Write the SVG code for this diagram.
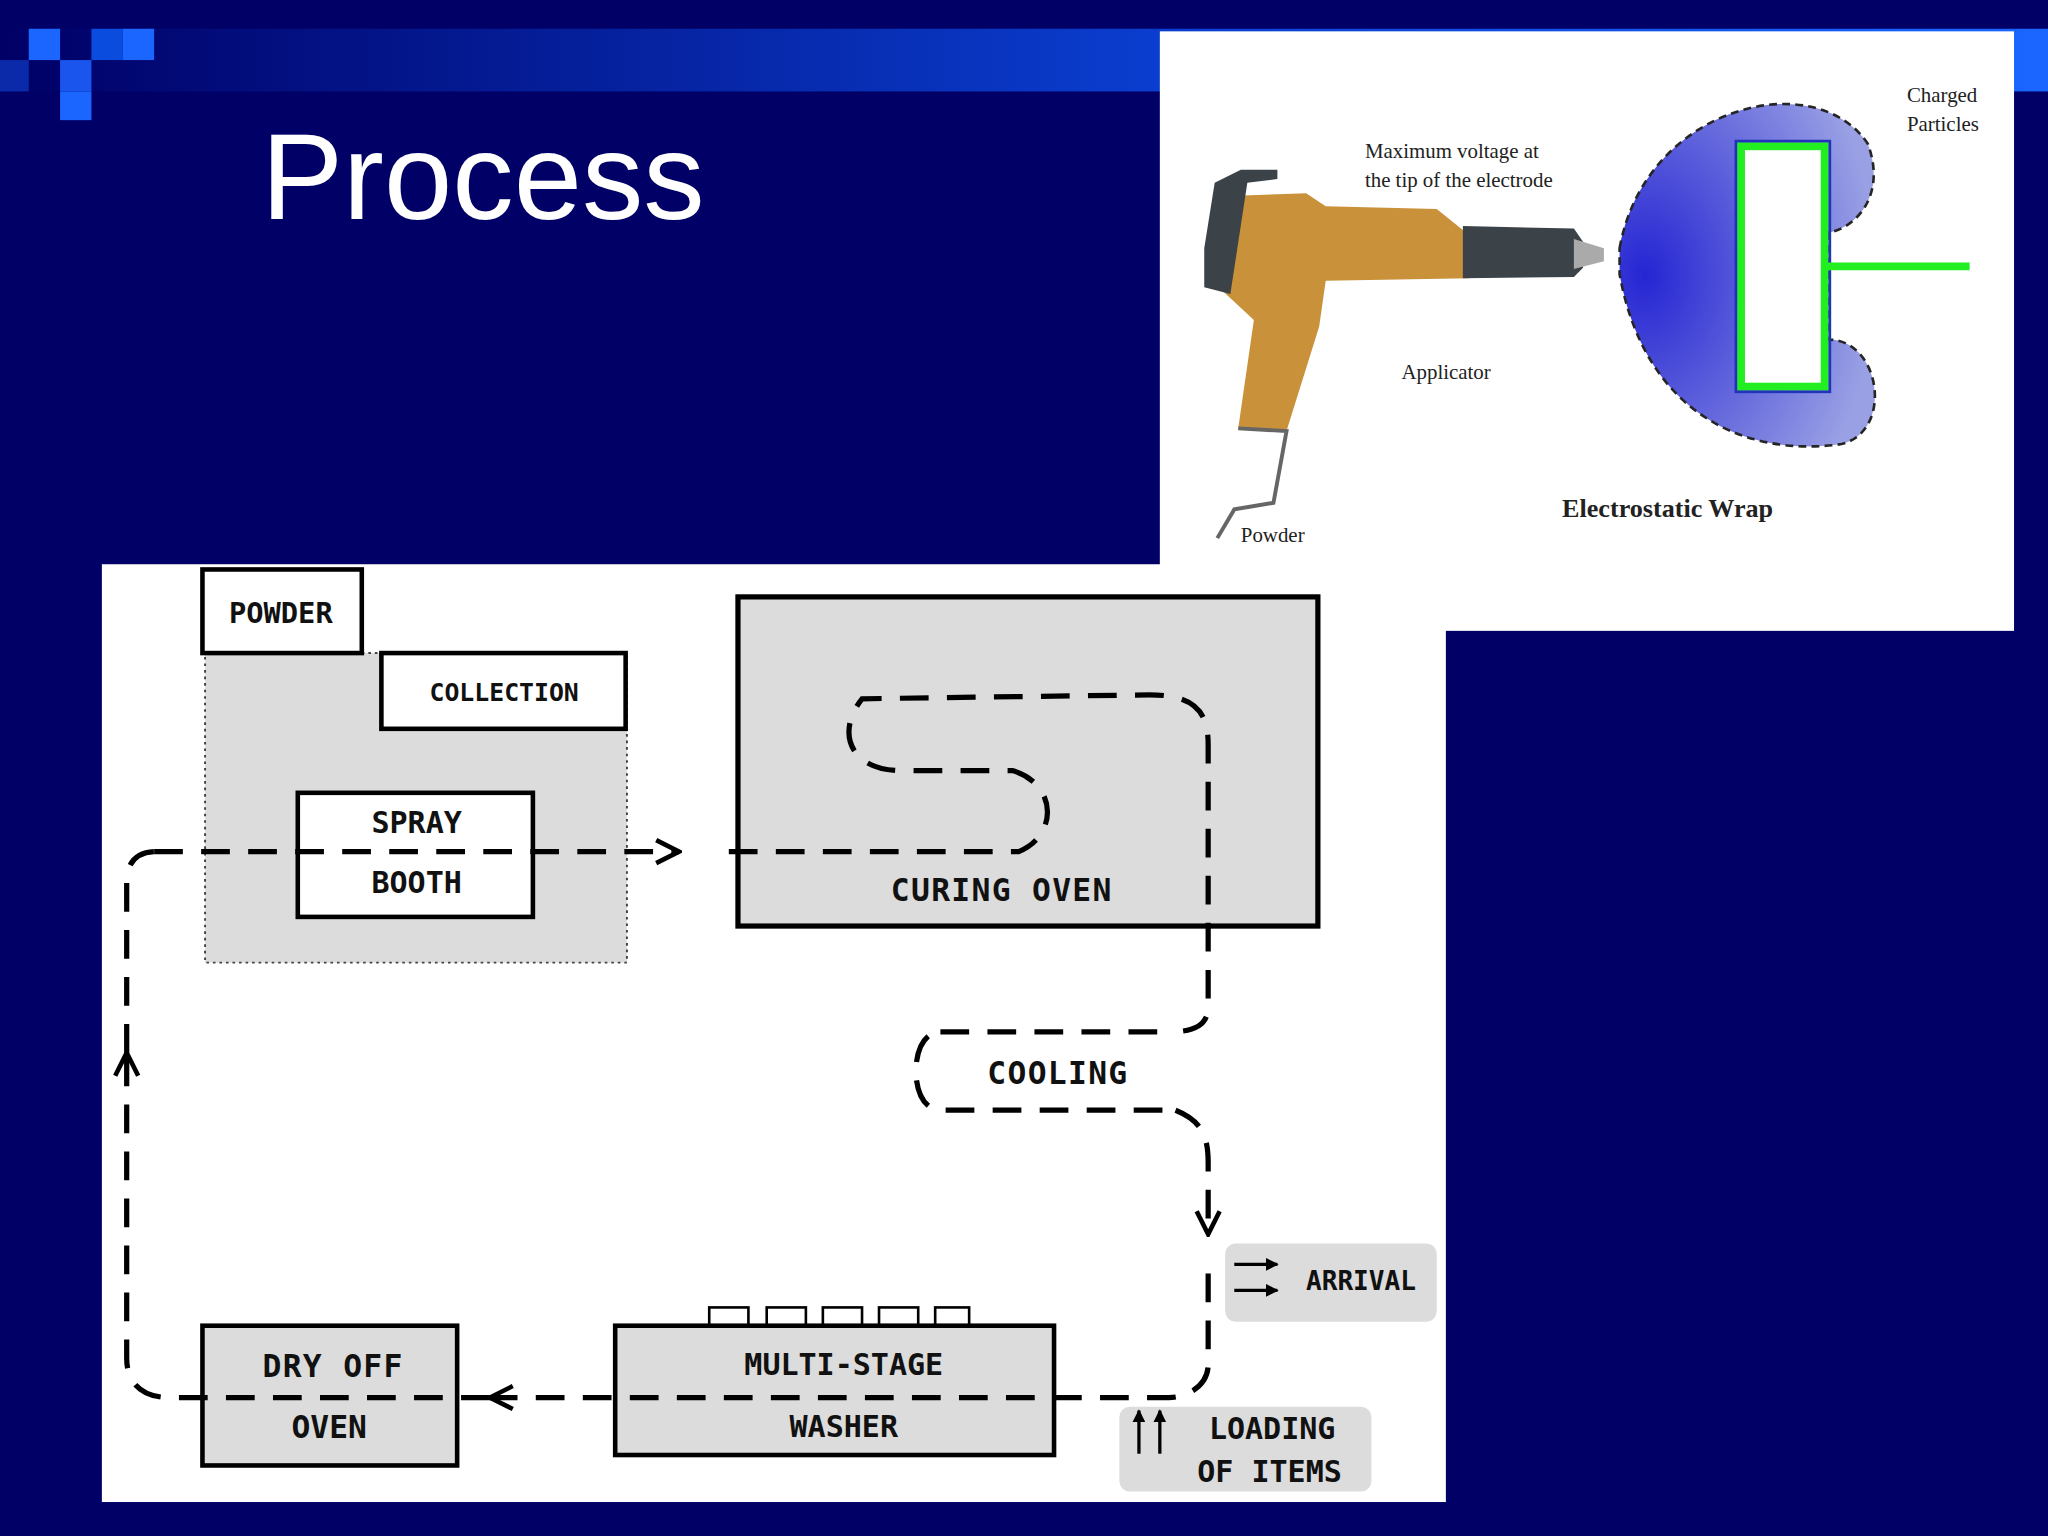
<svg xmlns="http://www.w3.org/2000/svg" width="2048" height="1536" viewBox="0 0 2048 1536">
<defs>
<linearGradient id="bar" x1="0" x2="1" y1="0" y2="0"><stop offset="0" stop-color="#000066"/><stop offset="0.55" stop-color="#0a3ccc"/><stop offset="1" stop-color="#1a66ff"/></linearGradient>
<radialGradient id="spray" cx="0.1" cy="0.5" r="0.9"><stop offset="0" stop-color="#0000cc"/><stop offset="1" stop-color="#8890e0"/></radialGradient>
<marker id="ah" viewBox="0 0 10 10" refX="9" refY="5" markerWidth="22" markerHeight="22" orient="auto" markerUnits="userSpaceOnUse"><path d="M1,1 L9,5 L1,9" fill="none" stroke="#000" stroke-width="1.6"/></marker>
<marker id="sa" viewBox="0 0 10 10" refX="9" refY="5" markerWidth="4" markerHeight="4" orient="auto"><path d="M0,0 L10,5 L0,10 z" fill="#000"/></marker>
</defs>
<style>
.t{font-family:"DejaVu Sans Mono","Liberation Mono",monospace;font-weight:bold;fill:#111;text-anchor:middle}
.box{stroke:#000;stroke-width:3.5}
.dash{fill:none;stroke:#000;stroke-width:4;stroke-dasharray:22,14}
.ser{font-family:"Liberation Serif",serif;fill:#222}
</style>
<rect width="2048" height="1536" fill="#000066"/>
<g transform="scale(1.306122)">
<rect x="0" y="22" width="1568" height="48" fill="url(#bar)"/>
<rect x="22" y="22" width="24" height="24" fill="#1a66ff"/>
<rect x="70" y="22" width="24" height="24" fill="#0a4cdd"/>
<rect x="94" y="22" width="24" height="24" fill="#1a66ff"/>
<rect x="46" y="46" width="24" height="24" fill="#1a55ee"/>
<rect x="46" y="70" width="24" height="22" fill="#1a66ff"/>
<rect x="0" y="46" width="22" height="24" fill="#0a2aaa"/>
<text x="200" y="168" font-family="Liberation Sans,Arial,sans-serif" font-size="94" fill="#fff">Process</text>

<g id="electrostatic">
<rect x="888" y="24" width="654" height="459" fill="#fff"/>
<path d="M1240,190 C1260,80 1390,50 1430,110 C1445,150 1420,175 1400,178 L1400,260 C1440,260 1450,330 1410,340 C1340,350 1260,320 1240,210 Z" fill="url(#spray)" stroke="#000" stroke-width="2" stroke-dasharray="6,4" opacity="0.85"/>
<rect x="1333" y="112" width="64" height="184" fill="#fff" stroke="#22ee22" stroke-width="6"/>
<rect x="1329" y="108" width="72" height="192" fill="none" stroke="#2233bb" stroke-width="2"/>
<line x1="1397" y1="204" x2="1508" y2="204" stroke="#22ee22" stroke-width="6"/>
<path d="M930,175 L940,150 L1000,148 L1015,158 L1100,160 L1120,176 L1125,213 L1015,215 L1010,250 L985,330 L948,328 L960,245 L933,220 Z" fill="#c8913a"/>
<path d="M922,190 L930,140 L950,130 L978,130 L978,137 L955,140 L942,225 L922,220 Z" fill="#3b4348"/>
<path d="M1120,173 L1205,175 L1212,185 L1212,205 L1205,212 L1120,213 Z" fill="#3b4348"/>
<path d="M1205,183 L1228,190 L1228,200 L1205,206 Z" fill="#aaa"/>
<path d="M948,328 L985,330 L975,385 L945,390 L932,412" fill="none" stroke="#666" stroke-width="3"/>
<text x="1045" y="121" font-size="16" class="ser">Maximum voltage at</text>
<text x="1045" y="143" font-size="16" class="ser">the tip of the electrode</text>
<text x="1460" y="78" font-size="16" class="ser">Charged</text>
<text x="1460" y="100" font-size="16" class="ser">Particles</text>
<text x="1073" y="290" font-size="16" class="ser">Applicator</text>
<text x="950" y="415" font-size="16" class="ser">Powder</text>
<text x="1196" y="396" font-size="20" font-weight="bold" class="ser">Electrostatic Wrap</text>
</g>

<rect x="78" y="432" width="1029" height="718" fill="#fff"/>
<g id="booth">
<rect x="157" y="500" width="323" height="237" fill="#dcdcdc" stroke="#444" stroke-width="1.5" stroke-dasharray="2,3"/>
<rect x="155" y="436" width="122" height="64" fill="#fff" class="box"/>
<text x="215" y="477" font-size="22" class="t">POWDER</text>
<rect x="292" y="500" width="187" height="58" fill="#fff" class="box"/>
<text x="386" y="537" font-size="19" class="t">COLLECTION</text>
<rect x="228" y="607" width="180" height="95" fill="#fff" class="box"/>
<text x="319" y="638" font-size="23" class="t">SPRAY</text>
<text x="319" y="684" font-size="23" class="t">BOOTH</text>
</g>
<g id="oven">
<rect x="565" y="457" width="444" height="252" fill="#dcdcdc" stroke="#000" stroke-width="4"/>
<text x="767" y="690" font-size="24" class="t" letter-spacing="1">CURING OVEN</text>
</g>
<g id="cooling">
<path d="M720,790 L890,790 M890,850 L720,850 C695,850 695,790 720,790" class="dash"/>
<text x="810" y="830" font-size="24" class="t" letter-spacing="1">COOLING</text>
</g>
<g id="arrival">
<rect x="938" y="952" width="162" height="60" rx="8" fill="#dcdcdc"/>
<line x1="945" y1="968" x2="978" y2="968" stroke="#000" stroke-width="2.5" marker-end="url(#sa)"/>
<line x1="945" y1="988" x2="978" y2="988" stroke="#000" stroke-width="2.5" marker-end="url(#sa)"/>
<text x="1042" y="988" font-size="20" class="t">ARRIVAL</text>
</g>
<g id="loading">
<rect x="857" y="1077" width="193" height="65" rx="8" fill="#dcdcdc"/>
<line x1="872" y1="1113" x2="872" y2="1080" stroke="#000" stroke-width="2.5" marker-end="url(#sa)"/>
<line x1="888" y1="1113" x2="888" y2="1080" stroke="#000" stroke-width="2.5" marker-end="url(#sa)"/>
<text x="974" y="1102" font-size="23" class="t">LOADING</text>
<text x="972" y="1135" font-size="23" class="t">OF ITEMS</text>
</g>
<g id="washer">
<rect x="543" y="1001" width="30" height="14" fill="#fff" stroke="#000" stroke-width="2"/>
<rect x="587" y="1001" width="30" height="14" fill="#fff" stroke="#000" stroke-width="2"/>
<rect x="630" y="1001" width="30" height="14" fill="#fff" stroke="#000" stroke-width="2"/>
<rect x="673" y="1001" width="30" height="14" fill="#fff" stroke="#000" stroke-width="2"/>
<rect x="716" y="1001" width="26" height="14" fill="#fff" stroke="#000" stroke-width="2"/>
<rect x="471" y="1015" width="336" height="99" fill="#dcdcdc" class="box"/>
<text x="646" y="1053" font-size="23" class="t">MULTI-STAGE</text>
<text x="646" y="1100" font-size="23" class="t">WASHER</text>
</g>
<g id="dryoff">
<rect x="155" y="1015" width="195" height="107" fill="#dcdcdc" class="box"/>
<text x="255" y="1054" font-size="24" class="t" letter-spacing="1">DRY OFF</text>
<text x="252" y="1101" font-size="24" class="t">OVEN</text>
</g>
<g id="connectors">
<path d="M118,652 L520,652" class="dash" marker-end="url(#ah)"/>
<path d="M558,652 L780,652 C810,640 810,600 775,590 L690,590 C650,590 640,560 660,535 L880,532 C915,532 925,545 925,570 L925,770 C925,785 915,790 895,790" class="dash"/>
<path d="M900,850 C920,858 925,870 925,890 L925,945" class="dash" marker-end="url(#ah)"/>
<path d="M925,975 L925,1045 C925,1060 910,1070 895,1070 L375,1070" class="dash" marker-end="url(#ah)"/>
<path d="M375,1070 L130,1070 C110,1070 97,1060 97,1040 L97,806" class="dash" marker-end="url(#ah)"/>
<path d="M97,806 L97,675 C97,660 105,652 120,652" class="dash"/>
</g>
</g>
</svg>
